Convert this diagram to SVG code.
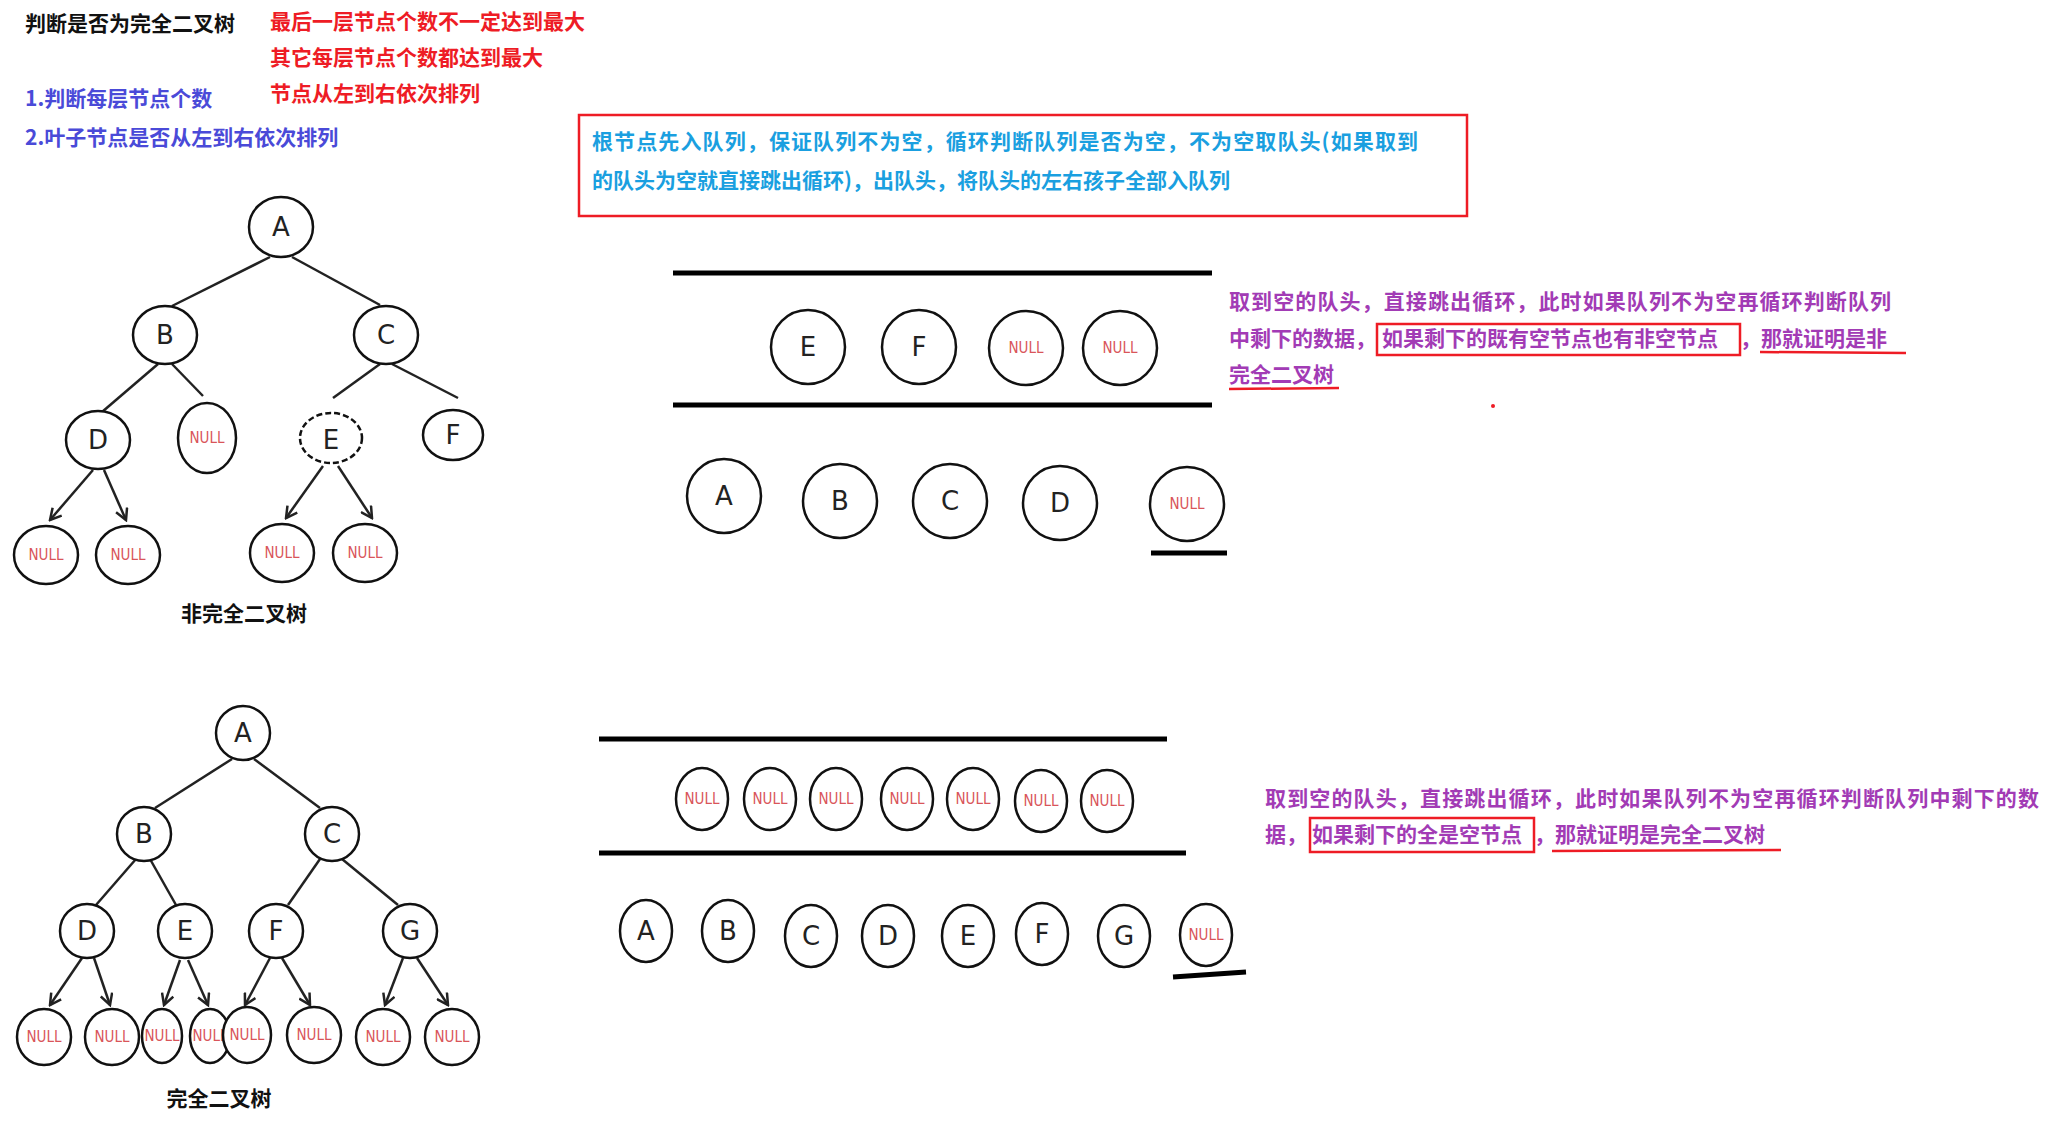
<svg xmlns="http://www.w3.org/2000/svg" width="2057" height="1121" viewBox="0 0 2057 1121">
<defs>
<style>
.t{font-family:"Noto Sans CJK SC","Noto Sans",sans-serif;font-weight:bold;font-size:21px}
.blk{fill:#111}.red{fill:#ee1c25}.blu{fill:#4a4ad8}.cy{fill:#1a9fe0}.pur{fill:#a23bb5}
.n{fill:#fff;stroke:#111;stroke-width:2.5}
.l{font-family:"DejaVu Sans",sans-serif;font-size:26px;fill:#222;text-anchor:middle;dominant-baseline:central}
.nl{font-family:"DejaVu Sans Condensed","DejaVu Sans",sans-serif;font-size:15px;fill:#d9555a;text-anchor:middle;dominant-baseline:central}
.e{stroke:#222;stroke-width:2.5;fill:none}
.bar{stroke:#000;stroke-width:5}
.rb{fill:none;stroke:#ee1c25;stroke-width:2.5}
.ul{stroke:#ee1c25;stroke-width:2.5}
</style>
<marker id="ar" markerWidth="14" markerHeight="14" refX="12" refY="7" orient="auto" markerUnits="userSpaceOnUse"><path d="M1,1 L12,7 L1,13" fill="none" stroke="#222" stroke-width="2.5"/></marker>
</defs>
<rect width="2057" height="1121" fill="#fff"/>

<g id="texts">
<text class="t blk" x="25" y="31">判断是否为完全二叉树</text>
<text class="t red" x="270" y="29">最后一层节点个数不一定达到最大</text>
<text class="t red" x="270" y="65">其它每层节点个数都达到最大</text>
<text class="t red" x="270" y="101">节点从左到右依次排列</text>
<text class="t blu" x="25" y="106">1.判断每层节点个数</text>
<text class="t blu" x="25" y="145">2.叶子节点是否从左到右依次排列</text>
<text class="t blk" x="244" y="621" text-anchor="middle">非完全二叉树</text>
<text class="t blk" x="219" y="1106" text-anchor="middle">完全二叉树</text>
</g>

<g id="infobox">
<rect class="rb" x="579" y="115" width="888" height="101"/>
<text class="t cy" x="592" y="149" textLength="826">根节点先入队列，保证队列不为空，循环判断队列是否为空，不为空取队头(如果取到</text>
<text class="t cy" x="592" y="188">的队头为空就直接跳出循环)，出队头，将队头的左右孩子全部入队列</text>
</g>

<g id="note1">
<text class="t pur" x="1229" y="309" textLength="662">取到空的队头，直接跳出循环，此时如果队列不为空再循环判断队列</text>
<text class="t pur" x="1229" y="346">中剩下的数据，<tspan x="1382">如果剩下的既有空节点也有非空节点</tspan><tspan x="1740">，那就证明是非</tspan></text>
<text class="t pur" x="1229" y="382">完全二叉树</text>
<rect class="rb" x="1377" y="324" width="363" height="31"/>
<line class="ul" x1="1760" y1="352" x2="1906" y2="353"/>
<line class="ul" x1="1229" y1="389" x2="1339" y2="388"/>
<circle cx="1493" cy="406" r="2" fill="#ee1c25"/>
</g>

<g id="note2">
<text class="t pur" x="1265" y="806" textLength="774">取到空的队头，直接跳出循环，此时如果队列不为空再循环判断队列中剩下的数</text>
<text class="t pur" x="1265" y="842">据，<tspan x="1312">如果剩下的全是空节点</tspan><tspan x="1534">，那就证明是完全二叉树</tspan></text>
<rect class="rb" x="1310" y="818" width="224" height="34"/>
<line class="ul" x1="1552" y1="851" x2="1781" y2="850"/>
</g>

<g id="connectors">
<line class="e" x1="270" y1="257" x2="172" y2="306"/>
<line class="e" x1="292" y1="257" x2="380" y2="305"/>
<line class="e" x1="158" y1="364" x2="102" y2="412"/>
<line class="e" x1="172" y1="364" x2="203" y2="396"/>
<line class="e" x1="380" y1="364" x2="333" y2="398"/>
<line class="e" x1="392" y1="364" x2="458" y2="398"/>
<line class="e" x1="93" y1="470" x2="50" y2="520" marker-end="url(#ar)"/>
<line class="e" x1="104" y1="470" x2="126" y2="520" marker-end="url(#ar)"/>
<line class="e" x1="323" y1="466" x2="286" y2="518" marker-end="url(#ar)"/>
<line class="e" x1="338" y1="466" x2="372" y2="518" marker-end="url(#ar)"/>

<line class="e" x1="232" y1="759" x2="155" y2="808"/>
<line class="e" x1="254" y1="759" x2="320" y2="808"/>
<line class="e" x1="136" y1="859" x2="96" y2="905"/>
<line class="e" x1="150" y1="859" x2="176" y2="905"/>
<line class="e" x1="320" y1="859" x2="288" y2="905"/>
<line class="e" x1="342" y1="859" x2="398" y2="905"/>
<line class="e" x1="82" y1="958" x2="50" y2="1005" marker-end="url(#ar)"/>
<line class="e" x1="94" y1="958" x2="110" y2="1005" marker-end="url(#ar)"/>
<line class="e" x1="180" y1="960" x2="164" y2="1005" marker-end="url(#ar)"/>
<line class="e" x1="188" y1="960" x2="208" y2="1005" marker-end="url(#ar)"/>
<line class="e" x1="270" y1="958" x2="245" y2="1005" marker-end="url(#ar)"/>
<line class="e" x1="282" y1="958" x2="310" y2="1005" marker-end="url(#ar)"/>
<line class="e" x1="403" y1="958" x2="385" y2="1005" marker-end="url(#ar)"/>
<line class="e" x1="417" y1="958" x2="448" y2="1005" marker-end="url(#ar)"/>
</g>

<g id="tree1">
<g id="t1A"><ellipse class="n" cx="281" cy="227" rx="32" ry="30"/><text class="l" x="281" y="227">A</text></g>
<g id="t1B"><ellipse class="n" cx="165" cy="335" rx="32" ry="29"/><text class="l" x="165" y="335">B</text></g>
<g id="t1C"><ellipse class="n" cx="386" cy="335" rx="32" ry="29"/><text class="l" x="386" y="335">C</text></g>
<g id="t1D"><ellipse class="n" cx="98" cy="440" rx="32" ry="29"/><text class="l" x="98" y="440">D</text></g>
<g id="t1N0"><ellipse class="n" cx="207" cy="438" rx="29" ry="35"/><text class="nl" x="207" y="438">NULL</text></g>
<g id="t1E"><ellipse class="n" cx="331" cy="438" rx="31" ry="25" stroke-dasharray="6 3"/><text class="l" x="331" y="440">E</text></g>
<g id="t1F"><ellipse class="n" cx="453" cy="435" rx="30" ry="25"/><text class="l" x="453" y="435">F</text></g>
<g id="t1N1"><ellipse class="n" cx="46" cy="555" rx="32" ry="29"/><text class="nl" x="46" y="555">NULL</text></g>
<g id="t1N2"><ellipse class="n" cx="128" cy="555" rx="32" ry="29"/><text class="nl" x="128" y="555">NULL</text></g>
<g id="t1N3"><ellipse class="n" cx="282" cy="553" rx="32" ry="29"/><text class="nl" x="282" y="553">NULL</text></g>
<g id="t1N4"><ellipse class="n" cx="365" cy="553" rx="32" ry="29"/><text class="nl" x="365" y="553">NULL</text></g>
</g>

<g id="queue1">
<line class="bar" x1="673" y1="273" x2="1212" y2="273"/>
<line class="bar" x1="673" y1="405" x2="1212" y2="405"/>
<g id="q1E"><circle class="n" cx="808" cy="347" r="37"/><text class="l" x="808" y="347">E</text></g>
<g id="q1F"><circle class="n" cx="919" cy="347" r="37"/><text class="l" x="919" y="347">F</text></g>
<g id="q1N1"><circle class="n" cx="1026" cy="348" r="37"/><text class="nl" x="1026" y="348">NULL</text></g>
<g id="q1N2"><circle class="n" cx="1120" cy="348" r="37"/><text class="nl" x="1120" y="348">NULL</text></g>
<g id="q1A"><circle class="n" cx="724" cy="496" r="37"/><text class="l" x="724" y="496">A</text></g>
<g id="q1B"><circle class="n" cx="840" cy="501" r="37"/><text class="l" x="840" y="501">B</text></g>
<g id="q1C"><circle class="n" cx="950" cy="501" r="37"/><text class="l" x="950" y="501">C</text></g>
<g id="q1D"><circle class="n" cx="1060" cy="503" r="37"/><text class="l" x="1060" y="503">D</text></g>
<g id="q1N"><circle class="n" cx="1187" cy="504" r="37"/><text class="nl" x="1187" y="504">NULL</text></g>
<line class="bar" x1="1151" y1="553" x2="1227" y2="553" stroke-width="3"/>
</g>

<g id="tree2">
<g id="t2A"><circle class="n" cx="243" cy="733" r="27"/><text class="l" x="243" y="733">A</text></g>
<g id="t2B"><circle class="n" cx="144" cy="834" r="27"/><text class="l" x="144" y="834">B</text></g>
<g id="t2C"><circle class="n" cx="332" cy="834" r="27"/><text class="l" x="332" y="834">C</text></g>
<g id="t2D"><circle class="n" cx="87" cy="931" r="27"/><text class="l" x="87" y="931">D</text></g>
<g id="t2E"><circle class="n" cx="185" cy="931" r="27"/><text class="l" x="185" y="931">E</text></g>
<g id="t2F"><circle class="n" cx="276" cy="931" r="27"/><text class="l" x="276" y="931">F</text></g>
<g id="t2G"><circle class="n" cx="410" cy="931" r="27"/><text class="l" x="410" y="931">G</text></g>
<g id="t2N1"><ellipse class="n" cx="44" cy="1037" rx="27" ry="28"/><text class="nl" x="44" y="1037" font-size="13">NULL</text></g>
<g id="t2N2"><ellipse class="n" cx="112" cy="1037" rx="27" ry="28"/><text class="nl" x="112" y="1037" font-size="13">NULL</text></g>
<g id="t2N3"><ellipse class="n" cx="162" cy="1036" rx="20" ry="27"/><text class="nl" x="162" y="1036" font-size="11">NULL</text></g>
<g id="t2N4"><ellipse class="n" cx="210" cy="1036" rx="20" ry="27"/><text class="nl" x="210" y="1036" font-size="11">NULL</text></g>
<g id="t2N5"><ellipse class="n" cx="247" cy="1035" rx="24" ry="28"/><text class="nl" x="247" y="1035" font-size="13">NULL</text></g>
<g id="t2N6"><ellipse class="n" cx="314" cy="1035" rx="27" ry="28"/><text class="nl" x="314" y="1035" font-size="13">NULL</text></g>
<g id="t2N7"><ellipse class="n" cx="383" cy="1037" rx="27" ry="28"/><text class="nl" x="383" y="1037" font-size="13">NULL</text></g>
<g id="t2N8"><ellipse class="n" cx="452" cy="1037" rx="27" ry="28"/><text class="nl" x="452" y="1037" font-size="13">NULL</text></g>
</g>

<g id="queue2">
<line class="bar" x1="599" y1="739" x2="1167" y2="739"/>
<line class="bar" x1="599" y1="853" x2="1186" y2="853"/>
<g id="q2N1"><ellipse class="n" cx="702" cy="799" rx="26" ry="31"/><text class="nl" x="702" y="799" font-size="13">NULL</text></g>
<g id="q2N2"><ellipse class="n" cx="770" cy="799" rx="26" ry="31"/><text class="nl" x="770" y="799" font-size="13">NULL</text></g>
<g id="q2N3"><ellipse class="n" cx="836" cy="799" rx="26" ry="31"/><text class="nl" x="836" y="799" font-size="13">NULL</text></g>
<g id="q2N4"><ellipse class="n" cx="907" cy="799" rx="26" ry="31"/><text class="nl" x="907" y="799" font-size="13">NULL</text></g>
<g id="q2N5"><ellipse class="n" cx="973" cy="799" rx="26" ry="31"/><text class="nl" x="973" y="799" font-size="13">NULL</text></g>
<g id="q2N6"><ellipse class="n" cx="1041" cy="801" rx="26" ry="31"/><text class="nl" x="1041" y="801" font-size="13">NULL</text></g>
<g id="q2N7"><ellipse class="n" cx="1107" cy="801" rx="26" ry="31"/><text class="nl" x="1107" y="801" font-size="13">NULL</text></g>
<g id="q2A"><ellipse class="n" cx="646" cy="931" rx="26" ry="31"/><text class="l" x="646" y="931">A</text></g>
<g id="q2B"><ellipse class="n" cx="728" cy="931" rx="26" ry="31"/><text class="l" x="728" y="931">B</text></g>
<g id="q2C"><ellipse class="n" cx="811" cy="936" rx="26" ry="31"/><text class="l" x="811" y="936">C</text></g>
<g id="q2D"><ellipse class="n" cx="888" cy="936" rx="26" ry="31"/><text class="l" x="888" y="936">D</text></g>
<g id="q2E"><ellipse class="n" cx="968" cy="936" rx="26" ry="31"/><text class="l" x="968" y="936">E</text></g>
<g id="q2F"><ellipse class="n" cx="1042" cy="934" rx="26" ry="31"/><text class="l" x="1042" y="934">F</text></g>
<g id="q2G"><ellipse class="n" cx="1124" cy="936" rx="26" ry="31"/><text class="l" x="1124" y="936">G</text></g>
<g id="q2N"><ellipse class="n" cx="1206" cy="935" rx="26" ry="31"/><text class="nl" x="1206" y="935" font-size="13">NULL</text></g>
<line class="bar" x1="1173" y1="977" x2="1246" y2="972" stroke-width="3"/>
</g>
</svg>
